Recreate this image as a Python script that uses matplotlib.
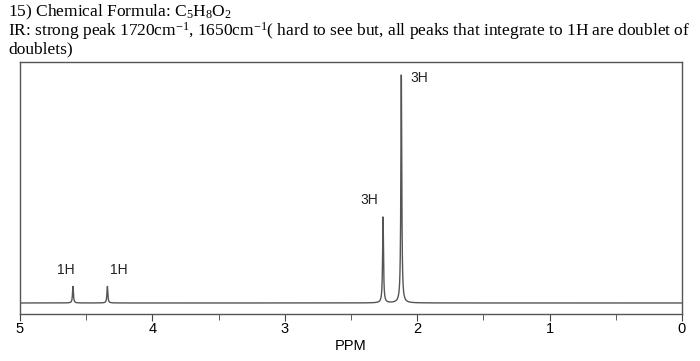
import numpy as np
import matplotlib.pyplot as plt

# peak list (ppm, relative height, integration label)
peak_ppm = [4.60, 4.34, 2.258, 2.12]
peak_height = [0.072, 0.072, 0.374, 1.0]
peak_label = ["1H", "1H", "3H", "3H"]
label_ppm = [4.72, 4.32, 2.43, 2.05]
label_y = [0.145, 0.145, 0.45, 0.98]

tick_vals = [5, 4, 3, 2, 1, 0]

plt.rcParams['mathtext.fontset'] = 'custom'
plt.rcParams['mathtext.rm'] = 'Liberation Serif'
plt.rcParams['mathtext.it'] = 'Liberation Serif:italic'

fig = plt.figure(figsize=(7, 3.61), dpi=100)
ax = fig.add_axes([20/700, 1-314/361, 662/700, 252/361])

# spectrum line: narrow lorentzian lines at each listed peak
x = np.linspace(5, 0, 6000)
y = np.zeros_like(x)
w = 0.004
for p, h in zip(peak_ppm, peak_height):
    y += h * w**2 / ((x - p)**2 + w**2)
ax.plot(x, y, color='#555555', lw=1.0)

for p, t, ly in zip(label_ppm, peak_label, label_y):
    ax.text(p, ly, t, ha='left', va='center', fontsize=10, family='Liberation Sans', color='#222222')

ax.set_xlim(5, 0)
ax.set_ylim(-0.048, 1.049)
ax.set_xticks(tick_vals)
ax.set_xticks(np.arange(0.5, 5, 1.0), minor=True)
ax.set_xticklabels([str(v) for v in tick_vals], family='Liberation Sans', fontsize=10.5)
ax.tick_params(axis='x', which='major', direction='out', length=5, color='#444444', pad=1)
ax.tick_params(axis='x', which='minor', direction='out', length=4, color='#444444')
ax.set_yticks([])
for s in ax.spines.values():
    s.set_color('#555555')
    s.set_linewidth(1.0)
ax.set_xlabel("PPM", family='Liberation Sans', fontsize=10.5, labelpad=2)

serif = 'Liberation Serif'
fig.text(8/700, 1-12/361, "15) Chemical Formula: C$_5$H$_8$O$_2$", family=serif, fontsize=12.5, va='center')
fig.text(8/700, 1-31/361, "IR: strong peak 1720cm$^{-1}$, 1650cm$^{-1}$( hard to see but, all peaks that integrate to 1H are doublet of",
         family=serif, fontsize=12.5, va='center')
fig.text(8/700, 1-49/361, "doublets)", family=serif, fontsize=12.5, va='center')

fig.savefig('out.png', dpi=100)
